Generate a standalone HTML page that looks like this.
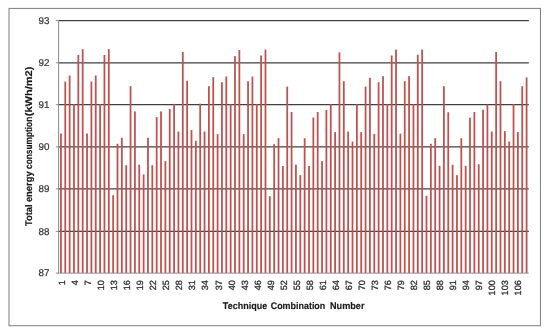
<!DOCTYPE html>
<html><head><meta charset="utf-8"><title>Total energy consumption</title>
<style>
html,body{margin:0;padding:0;background:#fff;}
body{width:550px;height:334px;overflow:hidden;}
svg{display:block;}
text{font-family:"Liberation Sans",sans-serif;text-rendering:geometricPrecision;}
.yl{font-size:9.8px;fill:#363636;stroke:#363636;stroke-width:0.22px;text-anchor:end;}
.xl{font-size:9.1px;fill:#2e2e2e;stroke:#2e2e2e;stroke-width:0.3px;text-anchor:end;}
.ttl{font-size:9.7px;font-weight:bold;fill:#1a1a1a;stroke:#1a1a1a;stroke-width:0.15px;}
</style></head><body>
<svg width="550" height="334" viewBox="0 0 550 334">
<rect x="0" y="0" width="550" height="334" fill="#ffffff"/>
<rect x="9.0" y="8.4" width="531.45" height="317.3" fill="none" stroke="#7e7e7e" stroke-width="1"/>

<g stroke="#404040" stroke-width="1.25">
<line x1="58.6" y1="20.55" x2="528.8" y2="20.55"/>
<line x1="58.6" y1="62.75" x2="528.8" y2="62.75"/>
<line x1="58.6" y1="104.7" x2="528.8" y2="104.7"/>
<line x1="58.6" y1="146.9" x2="528.8" y2="146.9"/>
<line x1="58.6" y1="188.9" x2="528.8" y2="188.9"/>
<line x1="58.6" y1="231.4" x2="528.8" y2="231.4"/>
</g>
<g fill="#c0514e">
<rect x="60.04" y="133.5" width="1.78" height="139.6"/>
<rect x="64.39" y="81.6" width="1.78" height="191.5"/>
<rect x="68.74" y="75.5" width="1.78" height="197.6"/>
<rect x="73.09" y="104.0" width="1.78" height="169.1"/>
<rect x="77.44" y="54.9" width="1.78" height="218.2"/>
<rect x="81.80" y="49.2" width="1.78" height="223.9"/>
<rect x="86.15" y="133.5" width="1.78" height="139.6"/>
<rect x="90.50" y="81.6" width="1.78" height="191.5"/>
<rect x="94.85" y="75.5" width="1.78" height="197.6"/>
<rect x="99.20" y="104.0" width="1.78" height="169.1"/>
<rect x="103.56" y="54.9" width="1.78" height="218.2"/>
<rect x="107.91" y="49.2" width="1.78" height="223.9"/>
<rect x="112.26" y="195.2" width="1.78" height="77.9"/>
<rect x="116.61" y="143.8" width="1.78" height="129.3"/>
<rect x="120.96" y="137.8" width="1.78" height="135.4"/>
<rect x="125.32" y="165.2" width="1.78" height="107.9"/>
<rect x="129.67" y="86.2" width="1.78" height="186.9"/>
<rect x="134.02" y="111.4" width="1.78" height="161.7"/>
<rect x="138.37" y="164.6" width="1.78" height="108.5"/>
<rect x="142.72" y="174.5" width="1.78" height="98.6"/>
<rect x="147.08" y="137.8" width="1.78" height="135.4"/>
<rect x="151.43" y="165.2" width="1.78" height="107.9"/>
<rect x="155.78" y="117.1" width="1.78" height="156.0"/>
<rect x="160.13" y="111.4" width="1.78" height="161.7"/>
<rect x="164.48" y="161.1" width="1.78" height="112.0"/>
<rect x="168.84" y="109.0" width="1.78" height="164.1"/>
<rect x="173.19" y="103.9" width="1.78" height="169.2"/>
<rect x="177.54" y="131.5" width="1.78" height="141.6"/>
<rect x="181.89" y="52.0" width="1.78" height="221.1"/>
<rect x="186.24" y="80.8" width="1.78" height="192.3"/>
<rect x="190.60" y="130.1" width="1.78" height="143.0"/>
<rect x="194.95" y="140.8" width="1.78" height="132.3"/>
<rect x="199.30" y="103.7" width="1.78" height="169.4"/>
<rect x="203.65" y="131.5" width="1.78" height="141.6"/>
<rect x="208.00" y="86.2" width="1.78" height="186.9"/>
<rect x="212.36" y="77.1" width="1.78" height="196.0"/>
<rect x="216.71" y="134.1" width="1.78" height="139.0"/>
<rect x="221.06" y="82.2" width="1.78" height="190.9"/>
<rect x="225.41" y="76.5" width="1.78" height="196.6"/>
<rect x="229.76" y="104.1" width="1.78" height="169.0"/>
<rect x="234.12" y="56.1" width="1.78" height="217.0"/>
<rect x="238.47" y="50.0" width="1.78" height="223.1"/>
<rect x="242.82" y="134.1" width="1.78" height="139.0"/>
<rect x="247.17" y="81.2" width="1.78" height="191.9"/>
<rect x="251.52" y="76.5" width="1.78" height="196.6"/>
<rect x="255.88" y="104.1" width="1.78" height="169.0"/>
<rect x="260.23" y="55.5" width="1.78" height="217.6"/>
<rect x="264.58" y="49.6" width="1.78" height="223.5"/>
<rect x="268.93" y="196.2" width="1.78" height="76.9"/>
<rect x="273.28" y="144.2" width="1.78" height="128.9"/>
<rect x="277.64" y="138.2" width="1.78" height="134.9"/>
<rect x="281.99" y="166.0" width="1.78" height="107.1"/>
<rect x="286.34" y="86.6" width="1.78" height="186.5"/>
<rect x="290.69" y="112.0" width="1.78" height="161.1"/>
<rect x="295.04" y="164.6" width="1.78" height="108.5"/>
<rect x="299.40" y="175.1" width="1.78" height="98.0"/>
<rect x="303.75" y="138.2" width="1.78" height="134.9"/>
<rect x="308.10" y="166.0" width="1.78" height="107.1"/>
<rect x="312.45" y="117.5" width="1.78" height="155.6"/>
<rect x="316.80" y="112.0" width="1.78" height="161.1"/>
<rect x="321.16" y="161.1" width="1.78" height="112.0"/>
<rect x="325.51" y="110.0" width="1.78" height="163.1"/>
<rect x="329.86" y="104.1" width="1.78" height="169.0"/>
<rect x="334.21" y="132.1" width="1.78" height="141.0"/>
<rect x="338.56" y="52.4" width="1.78" height="220.7"/>
<rect x="342.92" y="81.2" width="1.78" height="191.9"/>
<rect x="347.27" y="131.5" width="1.78" height="141.6"/>
<rect x="351.62" y="141.6" width="1.78" height="131.5"/>
<rect x="355.97" y="104.1" width="1.78" height="169.0"/>
<rect x="360.32" y="132.1" width="1.78" height="141.0"/>
<rect x="364.68" y="86.6" width="1.78" height="186.5"/>
<rect x="369.03" y="77.8" width="1.78" height="195.3"/>
<rect x="373.38" y="133.9" width="1.78" height="139.2"/>
<rect x="377.73" y="82.2" width="1.78" height="190.9"/>
<rect x="382.08" y="76.1" width="1.78" height="197.0"/>
<rect x="386.44" y="104.0" width="1.78" height="169.1"/>
<rect x="390.79" y="55.5" width="1.78" height="217.6"/>
<rect x="395.14" y="49.6" width="1.78" height="223.5"/>
<rect x="399.49" y="133.7" width="1.78" height="139.4"/>
<rect x="403.84" y="81.2" width="1.78" height="191.9"/>
<rect x="408.20" y="76.1" width="1.78" height="197.0"/>
<rect x="412.55" y="104.1" width="1.78" height="169.0"/>
<rect x="416.90" y="54.7" width="1.78" height="218.4"/>
<rect x="421.25" y="49.6" width="1.78" height="223.5"/>
<rect x="425.60" y="195.8" width="1.78" height="77.3"/>
<rect x="429.96" y="143.8" width="1.78" height="129.3"/>
<rect x="434.31" y="138.2" width="1.78" height="134.9"/>
<rect x="438.66" y="165.8" width="1.78" height="107.3"/>
<rect x="443.01" y="86.2" width="1.78" height="186.9"/>
<rect x="447.36" y="112.2" width="1.78" height="160.9"/>
<rect x="451.72" y="164.7" width="1.78" height="108.4"/>
<rect x="456.07" y="175.1" width="1.78" height="98.0"/>
<rect x="460.42" y="138.2" width="1.78" height="134.9"/>
<rect x="464.77" y="165.8" width="1.78" height="107.3"/>
<rect x="469.12" y="117.7" width="1.78" height="155.4"/>
<rect x="473.48" y="112.0" width="1.78" height="161.1"/>
<rect x="477.83" y="164.2" width="1.78" height="108.9"/>
<rect x="482.18" y="109.6" width="1.78" height="163.5"/>
<rect x="486.53" y="104.5" width="1.78" height="168.6"/>
<rect x="490.88" y="131.5" width="1.78" height="141.6"/>
<rect x="495.24" y="52.0" width="1.78" height="221.1"/>
<rect x="499.59" y="81.2" width="1.78" height="191.9"/>
<rect x="503.94" y="131.1" width="1.78" height="142.0"/>
<rect x="508.29" y="141.6" width="1.78" height="131.5"/>
<rect x="512.64" y="104.0" width="1.78" height="169.1"/>
<rect x="517.00" y="132.1" width="1.78" height="141.0"/>
<rect x="521.35" y="86.2" width="1.78" height="186.9"/>
<rect x="525.70" y="77.4" width="1.78" height="195.7"/>
</g>
<g stroke="#8c8c8c" stroke-width="1">
<line x1="58.6" y1="20" x2="58.6" y2="273.6"/>
<line x1="55.8" y1="273.1" x2="528.8" y2="273.1"/>
<line x1="55.8" y1="20.55" x2="58.6" y2="20.55"/>
<line x1="55.8" y1="62.75" x2="58.6" y2="62.75"/>
<line x1="55.8" y1="104.7" x2="58.6" y2="104.7"/>
<line x1="55.8" y1="146.9" x2="58.6" y2="146.9"/>
<line x1="55.8" y1="188.9" x2="58.6" y2="188.9"/>
<line x1="55.8" y1="231.4" x2="58.6" y2="231.4"/>
</g>
<text class="yl" x="49.5" y="23.9">93</text>
<text class="yl" x="49.5" y="66.0">92</text>
<text class="yl" x="49.5" y="108.0">91</text>
<text class="yl" x="49.5" y="150.2">90</text>
<text class="yl" x="49.5" y="192.2">89</text>
<text class="yl" x="49.5" y="234.7">88</text>
<text class="yl" x="49.5" y="276.4">87</text>
<text class="xl" transform="translate(64.98,280.2) rotate(-90)">1</text>
<text class="xl" transform="translate(78.00,280.2) rotate(-90)">4</text>
<text class="xl" transform="translate(91.03,280.2) rotate(-90)">7</text>
<text class="xl" transform="translate(104.06,280.2) rotate(-90)">10</text>
<text class="xl" transform="translate(117.09,280.2) rotate(-90)">13</text>
<text class="xl" transform="translate(130.12,280.2) rotate(-90)">16</text>
<text class="xl" transform="translate(143.15,280.2) rotate(-90)">19</text>
<text class="xl" transform="translate(156.17,280.2) rotate(-90)">22</text>
<text class="xl" transform="translate(169.20,280.2) rotate(-90)">25</text>
<text class="xl" transform="translate(182.23,280.2) rotate(-90)">28</text>
<text class="xl" transform="translate(195.35,280.2) rotate(-90)">31</text>
<text class="xl" transform="translate(208.48,280.2) rotate(-90)">34</text>
<text class="xl" transform="translate(221.60,280.2) rotate(-90)">37</text>
<text class="xl" transform="translate(234.73,280.2) rotate(-90)">40</text>
<text class="xl" transform="translate(247.85,280.2) rotate(-90)">43</text>
<text class="xl" transform="translate(260.98,280.2) rotate(-90)">46</text>
<text class="xl" transform="translate(274.10,280.2) rotate(-90)">49</text>
<text class="xl" transform="translate(287.23,280.2) rotate(-90)">52</text>
<text class="xl" transform="translate(300.17,280.2) rotate(-90)">55</text>
<text class="xl" transform="translate(313.12,280.2) rotate(-90)">58</text>
<text class="xl" transform="translate(326.06,280.2) rotate(-90)">61</text>
<text class="xl" transform="translate(339.00,280.2) rotate(-90)">64</text>
<text class="xl" transform="translate(351.95,280.2) rotate(-90)">67</text>
<text class="xl" transform="translate(364.89,280.2) rotate(-90)">70</text>
<text class="xl" transform="translate(377.83,280.2) rotate(-90)">73</text>
<text class="xl" transform="translate(390.78,280.2) rotate(-90)">76</text>
<text class="xl" transform="translate(403.80,280.2) rotate(-90)">79</text>
<text class="xl" transform="translate(416.82,280.2) rotate(-90)">82</text>
<text class="xl" transform="translate(429.84,280.2) rotate(-90)">85</text>
<text class="xl" transform="translate(442.87,280.2) rotate(-90)">88</text>
<text class="xl" transform="translate(455.89,280.2) rotate(-90)">91</text>
<text class="xl" transform="translate(468.91,280.2) rotate(-90)">94</text>
<text class="xl" transform="translate(481.93,280.2) rotate(-90)">97</text>
<text class="xl" transform="translate(494.96,280.2) rotate(-90)">100</text>
<text class="xl" transform="translate(507.98,280.2) rotate(-90)">103</text>
<text class="xl" transform="translate(521.04,280.2) rotate(-90)">106</text>
<text class="ttl" y="309.0"><tspan x="222.8" textLength="44.5" lengthAdjust="spacingAndGlyphs">Technique</tspan> <tspan x="270.7" textLength="54.6" lengthAdjust="spacingAndGlyphs">Combination</tspan> <tspan x="330.0" textLength="34.5" lengthAdjust="spacingAndGlyphs">Number</tspan></text>
<text class="ttl" transform="translate(32.4,226.0) rotate(-90)" y="0"><tspan x="0" textLength="21.6" lengthAdjust="spacingAndGlyphs">Total</tspan> <tspan x="23.9" textLength="30.8" lengthAdjust="spacingAndGlyphs">energy</tspan> <tspan x="57.0" textLength="52.3" lengthAdjust="spacingAndGlyphs">consumption</tspan><tspan x="109.8" textLength="49.6" lengthAdjust="spacingAndGlyphs">(kWh/m2)</tspan></text>
</svg></body></html>
